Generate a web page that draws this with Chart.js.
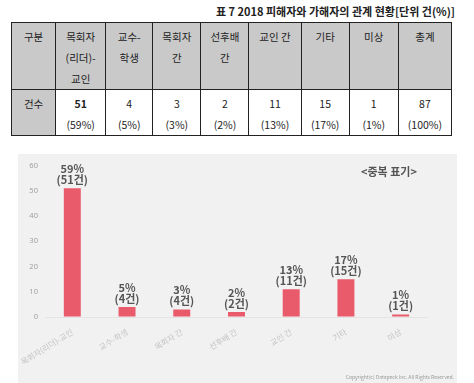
<!DOCTYPE html>
<html><head><meta charset="utf-8">
<script src="https://cdn.jsdelivr.net/npm/chart.js@4/dist/chart.umd.min.js"></script>
<style>
html,body{margin:0;padding:0;background:#fff;width:474px;height:383px;overflow:hidden;font-family:"Noto Sans CJK KR","Noto Sans",sans-serif;}
#title{position:absolute;right:19px;top:3px;font-size:11px;font-weight:bold;color:#222;white-space:nowrap;}
table{position:absolute;left:11px;top:22px;border-collapse:collapse;table-layout:fixed;width:441px;font-size:10.5px;color:#222;}
td{border:1px solid #222;text-align:center;vertical-align:top;padding:3px 1px 0 1px;line-height:21px;}
tr.h td{background:#c9c9c9;height:62px;}
tr.d td{background:#fff;height:39px;}
tr.d td.g{background:#c9c9c9;}
#panel{position:absolute;left:18px;top:154px;width:439px;height:229px;background:#f1f1f1;}
#wrap{position:absolute;left:0;top:0;width:439px;height:229px;}
#note{position:absolute;left:343px;top:9px;font-size:11px;font-weight:bold;color:#555;white-space:nowrap;}
#copy{position:absolute;right:3px;top:219px;font-size:5px;color:#999;white-space:nowrap;}
</style></head>
<body>
<div id="title">표 7 2018 피해자와 가해자의 관계 현황[단위 건(%)]</div>
<table>
<colgroup><col style="width:44px"><col style="width:50px"><col style="width:47px"><col style="width:48px"><col style="width:48px"><col style="width:52px"><col style="width:48px"><col style="width:49px"><col style="width:53px"></colgroup>
<tr class="h"><td>구분</td><td>목회자<br>(리더)-<br>교인</td><td>교수-<br>학생</td><td>목회자<br>간</td><td>선후배<br>간</td><td>교인 간</td><td>기타</td><td>미상</td><td>총계</td></tr>
<tr class="d"><td class="g">건수</td><td><b>51</b><br>(59%)</td><td>4<br>(5%)</td><td>3<br>(3%)</td><td>2<br>(2%)</td><td>11<br>(13%)</td><td>15<br>(17%)</td><td>1<br>(1%)</td><td>87<br>(100%)</td></tr>
</table>
<div id="panel">
<div id="wrap"><canvas id="c"></canvas></div>
<div id="note">&lt;중복 표기&gt;</div>
<div id="copy">Copyright(c) Datapeck Inc. All Rights Reserved.</div>
</div>
<script>
const categories = ["목회자(리더)-교인","교수-학생","목회자 간","선후배 간","교인 간","기타","미상"];
const values = [51, 4, 3, 2, 11, 15, 1];
const pctLabels = ["59%","5%","3%","2%","13%","17%","1%"];
const countLabels = ["(51건)","(4건)","(4건)","(2건)","(11건)","(15건)","(1건)"];
const yMin = 0, yMax = 60, yStep = 10;

const labelPlugin = {
  id: 'barLabels',
  afterDatasetsDraw(chart) {
    const ctx = chart.ctx;
    const meta = chart.getDatasetMeta(0);
    ctx.save();
    ctx.font = 'bold 11px "Noto Sans CJK KR", sans-serif';
    ctx.fillStyle = '#555';
    ctx.textAlign = 'center';
    ctx.textBaseline = 'alphabetic';
    meta.data.forEach((el, i) => {
      ctx.fillText(countLabels[i], el.x, el.y - 4);
      ctx.fillText(pctLabels[i], el.x, el.y - 15);
    });
    ctx.restore();
  }
};

new Chart(document.getElementById('c'), {
  type: 'bar',
  data: {
    labels: categories,
    datasets: [{
      data: values,
      backgroundColor: '#e95a6b',
      barPercentage: 0.31,
      categoryPercentage: 1.0
    }]
  },
  options: {
    responsive: true,
    maintainAspectRatio: false,
    animation: false,
    layout: { padding: { top: 9, right: 29, left: 0, bottom: 0 } },
    plugins: { legend: { display: false }, tooltip: { enabled: false } },
    scales: {
      x: {
        grid: { display: false },
        border: { display: false },
        ticks: {
          color: '#c4c4c4',
          font: { size: 8, family: '"Noto Sans CJK KR", sans-serif' },
          minRotation: 32, maxRotation: 32, padding: 2
        },
        afterFit(scale) { scale.height = 66; }
      },
      y: {
        min: yMin, max: yMax,
        grid: {
          color: (c) => (c.tick && c.tick.value === 0) ? '#e4e4e4' : 'rgba(0,0,0,0)',
          drawTicks: false
        },
        border: { display: false },
        ticks: {
          stepSize: yStep,
          color: '#a0a0a0',
          font: { size: 7.5, family: '"Noto Sans", sans-serif' },
          padding: 7
        },
        afterFit(scale) { scale.width = 23.5; }
      }
    }
  },
  plugins: [labelPlugin]
});
</script>
</body></html>
